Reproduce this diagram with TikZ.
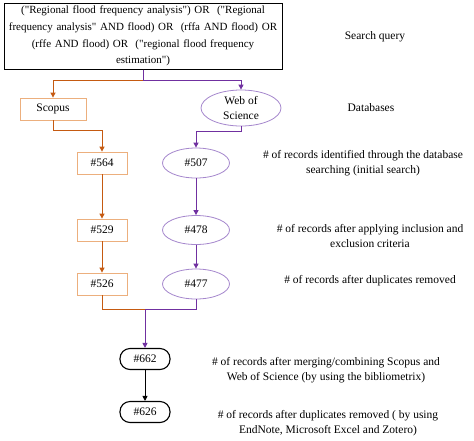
\documentclass[tikz,border=0pt]{standalone}
\usepackage{fontspec}
\setmainfont{Liberation Serif}
\newfontfamily\tnr{Liberation Serif}
\usetikzlibrary{arrows.meta,shapes.geometric}
\definecolor{orline}{RGB}{197,90,17}
\definecolor{orbox}{RGB}{236,175,125}
\definecolor{puline}{RGB}{112,48,160}
\definecolor{pubox}{RGB}{165,135,205}
\tikzset{
  tip/.style={-{Triangle[length=5pt,width=5pt]}},
  orl/.style={draw=orline,line width=1pt},
  pul/.style={draw=puline,line width=1pt},
  blk/.style={draw=black,line width=1pt},
  obox/.style={draw=orbox,line width=0.8pt,rectangle,minimum height=22pt,inner sep=0pt,font=\tnr\fontsize{11.5}{13}\selectfont},
  pell/.style={draw=pubox,line width=0.8pt,ellipse,inner sep=0pt,font=\tnr\fontsize{11.5}{13}\selectfont},
  mbox/.style={draw=black,line width=1.1pt,rectangle,rounded corners=10pt,minimum width=50pt,minimum height=21pt,inner sep=0pt,font=\tnr\fontsize{11.5}{13}\selectfont},
  lab/.style={align=center,inner sep=0pt,font=\tnr\fontsize{11.5}{15}\selectfont}
}
\begin{document}
\begin{tikzpicture}[x=1pt,y=-1pt]
\useasboundingbox (0,0) rectangle (474,440);
\fill[white] (0,0) rectangle (474,440);
% search query
\node[draw=black,line width=1pt,rectangle,minimum width=278pt,minimum height=66pt,inner sep=0pt,
      text width=274pt,align=center,font=\tnr\fontsize{11}{16.6}\selectfont] (query) at (143,36)
 {("Regional flood frequency analysis") OR\ \ ("Regional\\
  frequency analysis" AND flood) OR\ \ (rffa AND flood) OR\\
  (rffe AND flood) OR\ \ ("regional flood frequency\\
  estimation")};
% databases
\node[obox,minimum width=66pt] (scopus) at (53,109) {Scopus};
\node[pell,minimum width=80pt,minimum height=36pt,align=center,font=\tnr\fontsize{11.5}{15}\selectfont] (wos) at (241,108) {Web of\\Science};
% scopus column
\node[obox,minimum width=50pt] (s564) at (102,163) {\#564};
\node[obox,minimum width=50pt] (s529) at (102,230) {\#529};
\node[obox,minimum width=50pt] (s526) at (102,284) {\#526};
% wos column
\node[pell,minimum width=67pt,minimum height=30pt] (w507) at (196,163) {\#507};
\node[pell,minimum width=67pt,minimum height=29pt] (w478) at (196,230) {\#478};
\node[pell,minimum width=67pt,minimum height=30pt] (w477) at (196,284) {\#477};
% merged
\node[mbox] (m662) at (145,359) {\#662};
\node[mbox] (m626) at (145,412) {\#626};
\coordinate (jm) at (145,309);
% connectors
\draw[orl,tip] (query.south) -- ++(0,11) -| (scopus.north);
\draw[pul,tip] (query.south) -- ++(0,11) -| (wos.north);
\draw[orl,tip] (scopus.south) -- ++(0,10) -| (s564.north);
\draw[pul,tip] (wos.south) -- ++(0,5) -| (w507.north);
\draw[orl,tip] (s564) -- (s529);
\draw[orl,tip] (s529) -- (s526);
\draw[pul,tip] (w507) -- (w478);
\draw[pul,tip] (w478) -- (w477);
\draw[orl] (s526.south) |- (jm);
\draw[pul] (w477.south) |- (jm);
\draw[pul,tip] (jm) -- (m662.north);
\draw[blk,tip] (m662) -- (m626);
% labels
\node[lab] (l1) at (375,37) {Search query};
\node[lab] (l2) at (371,108) {Databases};
\node[lab] (l3) at (363,163.5) {\# of records identified through the database\\searching (initial search)};
\node[lab] (l4) at (370,236) {\# of records after applying inclusion and\\exclusion criteria};
\node[lab] (l5) at (370,281) {\# of records after duplicates removed};
\node[lab] (l6) at (326,370) {\# of records after merging/combining Scopus and\\Web of Science (by using the bibliometrix)};
\node[lab] (l7) at (328,423) {\# of records after duplicates removed ( by using\\EndNote, Microsoft Excel and Zotero)};
\end{tikzpicture}
\end{document}
